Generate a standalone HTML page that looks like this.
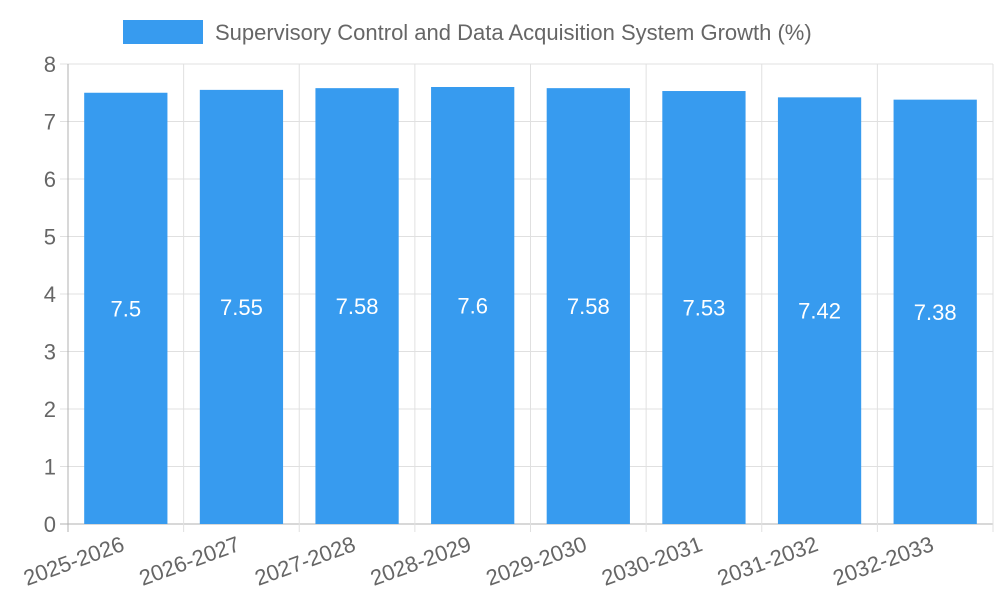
<!DOCTYPE html>
<html><head><meta charset="utf-8"><style>
html,body{margin:0;padding:0;background:#fff;}
svg{display:block;font-family:"Liberation Sans",sans-serif;}
</style></head><body>
<svg id="chart" width="1000" height="600">
  <g id="grid"></g>
  <g id="bars"></g>
  <g id="axes"></g>
  <g>
    <rect x="123" y="20" width="80" height="24" fill="#379bef"/>
    <text x="215" y="40" font-size="22" fill="#666">Supervisory Control and Data Acquisition System Growth (%)</text>
  </g>
</svg>
<script>
const categories = ["2025-2026","2026-2027","2027-2028","2028-2029","2029-2030","2030-2031","2031-2032","2032-2033"];
const values = [7.5,7.55,7.58,7.6,7.58,7.53,7.42,7.38];
const yTicks = [0,1,2,3,4,5,6,7,8];

const NS="http://www.w3.org/2000/svg";
const L=68,R=993,T=64,B=524,yMax=8;
const bw=(R-L)/categories.length;
const y=v=>B-(v/yMax)*(B-T);
const x=i=>L+bw*i;
function mk(tag,attrs,parent){const e=document.createElementNS(NS,tag);for(const k in attrs)e.setAttribute(k,attrs[k]);parent.appendChild(e);return e;}
const grid=document.getElementById('grid'),bars=document.getElementById('bars'),axes=document.getElementById('axes');
yTicks.forEach(t=>{
  const ln=mk('line',{x1:L-8,x2:R,y1:y(t),y2:y(t),stroke:t===0?'#b0b0b0':'#e0e0e0','stroke-width':1},grid);
  
  
  const tx=mk('text',{x:L-12,y:y(t)+8,'text-anchor':'end','font-size':22,fill:'#666'},axes);
  tx.textContent=t;
  
  
});
for(let i=0;i<=categories.length;i++){
  const ln=mk('line',{x1:x(i),x2:x(i),y1:T,y2:B+8,stroke:i===0?'#b0b0b0':'#e0e0e0','stroke-width':1},grid);
  
  
}
categories.forEach((c,i)=>{
  const cx=x(i)+bw/2,w=bw*0.72;
  const r=mk('rect',{x:cx-w/2,y:y(values[i]),width:w,height:B-y(values[i]),fill:'#379bef'},bars);
  
  
  const vt=mk('text',{x:cx,y:(y(values[i])+B)/2+8,'text-anchor':'middle','font-size':22,fill:'#fff'},bars);
  vt.textContent=values[i];
  
  
  const lt=mk('text',{x:cx,y:550,'text-anchor':'end','font-size':22,fill:'#666',transform:`rotate(-20 ${cx} 550)`},axes);
  lt.textContent=c;
  
  
});
mk('line',{x1:L,x2:L,y1:T,y2:B+8,stroke:'#b0b0b0'},axes);
</script>
</body></html>
